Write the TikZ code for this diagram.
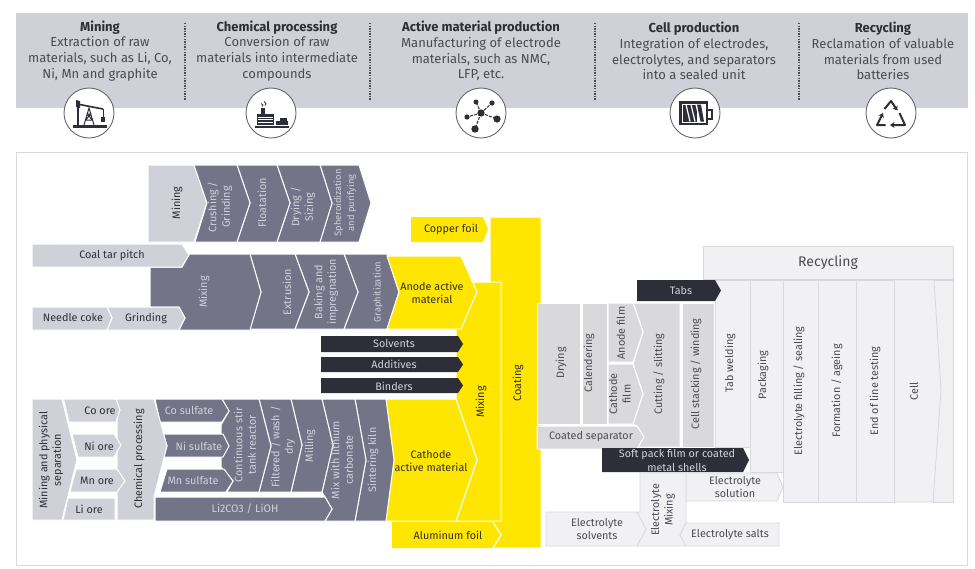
\documentclass[tikz,border=0pt]{standalone}
\usepackage{fontspec}
\setmainfont{Fira Sans}
\usetikzlibrary{arrows.meta}
\definecolor{hdr}{HTML}{D0D1D8}
\definecolor{slate}{HTML}{747489}
\definecolor{ink}{HTML}{2E2E38}
\definecolor{ylw}{HTML}{FFE600}
\definecolor{midg}{HTML}{D9D9DB}
\definecolor{pale}{HTML}{F1F1F3}
\definecolor{paleline}{HTML}{D8D9DE}
\definecolor{txt}{HTML}{4A4A55}
\tikzset{
  frame/.style={draw=paleline,line width=0.8pt,fill=white},
  lightp/.style={fill=hdr,draw=white,line width=1pt},
  slatep/.style={fill=slate,draw=white,line width=1pt},
  yellowp/.style={fill=ylw,draw=white,line width=1pt},
  inkp/.style={fill=ink},
  midp/.style={fill=midg,draw=white,line width=1pt},
  palep/.style={fill=pale,draw=paleline,line width=0.8pt},
  base/.style={inner sep=0pt,align=center,font=\fontsize{10.8}{13.5}\selectfont},
  small/.style={font=\fontsize{9.4}{13}\selectfont},
  onlight/.style={base,text=ink},
  onslate/.style={base,text=hdr},
  onyellow/.style={base,text=ink},
  oninkp/.style={base,text=hdr},
  onmid/.style={base,text=ink!85},
  onpale/.style={base,text=txt},
  up/.style={rotate=90},
  headt/.style={inner sep=0pt,align=center,text=txt,font=\fontsize{13}{15.8}\selectfont},
  badge/.style={circle,minimum size=50pt,inner sep=0pt,draw=txt!85,line width=0.9pt,fill=white},
  sepd/.style={draw=txt,line width=1.4pt,dash pattern=on 1.3pt off 1.3pt},
  icon/.style={fill=ink,draw=none},
  iconl/.style={draw=ink,line width=1pt},
  recy/.style={draw=ink,line width=2pt,line join=round,-{Stealth[length=4.5pt,width=6pt]}},
}
\newcommand{\headb}[1]{{\fontseries{sb}\selectfont\color{ink}#1}}
\begin{document}
\begin{tikzpicture}[x=1pt,y=-1pt]
\useasboundingbox (0,0) rectangle (975,568);
% header
\path[fill=hdr] (16,13) rectangle (968,108);
\path[frame] (16,152) rectangle (967,565);
\draw[sepd] (185,23) -- (185,100);
\draw[sepd] (370,23) -- (370,100);
\draw[sepd] (595,23) -- (595,100);
\draw[sepd] (799,23) -- (799,100);
\node[headt] (h1) at (100,51) {\headb{Mining}\\Extraction of raw\\materials, such as Li, Co,\\Ni, Mn and graphite};
\node[headt] (h2) at (277,51) {\headb{Chemical processing}\\Conversion of raw\\materials into intermediate\\compounds};
\node[headt] (h3) at (481,51) {\headb{Active material production}\\Manufacturing of electrode\\materials, such as NMC,\\LFP, etc.};
\node[headt] (h4) at (694,51) {\headb{Cell production}\\Integration of electrodes,\\electrolytes, and separators\\into a sealed unit};
\node[headt] (h5) at (883,51) {\headb{Recycling}\\Reclamation of valuable\\materials from used\\batteries};
\node[badge] (c1) at (89,113) {};
\node[badge] (c2) at (271,113) {};
\node[badge] (c3) at (481,113) {};
\node[badge] (c4) at (695,113) {};
\node[badge] (c5) at (891,113) {};
% pumpjack
\path[icon] (73,125) rectangle (107,127.5);
\draw[iconl,line width=1.6pt] (77,104) -- (103,109);
\path[icon] (76,100) -- (80,101) -- (80,108) -- (76,107) -- cycle;
\draw[iconl,line width=1.3pt] (78,105) -- (78,125);
\draw[iconl] (84,125) -- (89,108) -- (94,125) (85.5,120) -- (92.5,120) (87,114) -- (91,114) (85.5,120) -- (91,114) (92.5,120) -- (87,114);
\draw[iconl,line width=0.6pt] (103,109) -- (103,117);
\path[icon] (100.5,117) rectangle (104.5,122);
% factory
\path[icon] (255,125.5) rectangle (289,127.5);
\path[icon] (257,114) rectangle (274,125);
\draw[white,line width=0.7pt] (258,117) -- (273,117) (258,119.5) -- (273,119.5) (258,122) -- (273,122);
\path[icon] (261,108) rectangle (265,114);
\draw[iconl,line width=0.8pt] (261,103.5) -- (263,105) -- (262,106.5) (264,101.5) -- (266,103.5) -- (265,105.5);
\path[icon] (276,121) rectangle (288,125);
\path[icon] (280,117.5) rectangle (287,121);
% molecule
\draw[iconl,dash pattern=on 3pt off 1.2pt] (481,113) -- (476,102) (481,113) -- (492,103) (481,113) -- (497,119) (481,113) -- (475,129) (481,113) -- (467,117);
\path[icon] (481,113) circle (3.7) (476,102) circle (2.5) (492,103) circle (2.6) (497,119) circle (3.6) (475,129) circle (3.7) (467,117) circle (2.6);
% battery
\path[icon] (679,101) rectangle (708,125);
\path[fill=white] (681.5,103.5) rectangle (705.5,122.5);
\path[icon] (682.5,104.5) rectangle (697,121.5);
\draw[white,line width=1.2pt] (686,104.5) -- (690,121.5) (691,104.5) -- (695,121.5) (696,104.5) -- (700,121.5);
\path[icon] (697,104.5) -- (701,104.5) -- (704,121.5) -- (700.5,121.5) -- cycle;
\path[icon] (708,108.5) rectangle (712.5,120);
\path[fill=white] (708,110.5) rectangle (710.5,118);
% recycle
\draw[recy] (884.5,109) -- (891,101) -- (897.5,110.5);
\draw[recy] (899.5,113) -- (905,125) -- (890,125);
\draw[recy] (885.5,125) -- (877,125) -- (883,113);
% graphite line
\path[lightp] (148,165) -- (194,165) -- (207,203) -- (194,242) -- (148,242) -- cycle;
\path[slatep] (320,165) -- (359,165) -- (371,203) -- (359,242) -- (320,242) -- (332,203) -- cycle;
\path[slatep] (277,165) -- (320,165) -- (332,203) -- (320,242) -- (277,242) -- (290,203) -- cycle;
\path[slatep] (237,165) -- (277,165) -- (290,203) -- (277,242) -- (237,242) -- (250,203) -- cycle;
\path[slatep] (194,165) -- (237,165) -- (250,203) -- (237,242) -- (195,242) -- (207,203) -- cycle;
\node[onlight,up] (t1) at (177,203) {Mining};
\node[onslate,up] (t2) at (220,207) {Crushing /\\Grinding};
\node[onslate,up] (t3) at (262,203) {Floatation};
\node[onslate,up] (t4) at (303,207) {Drying /\\Sizing};
\node[onslate,up,small] (t5) at (345,203) {Spheroidization\\and purifying};
% anode line
\path[slatep] (344,254) -- (387,254) -- (399,292) -- (387,329) -- (344,329) -- (358,292) -- cycle;
\path[slatep] (295,254) -- (344,254) -- (358,292) -- (344,329) -- (295,329) -- (309,292) -- cycle;
\path[slatep] (250,254) -- (295,254) -- (309,292) -- (295,329) -- (250,329) -- (261,292) -- cycle;
\path[slatep] (187,254) -- (250,254) -- (261,292) -- (250,330) -- (179,330) -- (185,318) -- (179,307) -- (150,307) -- (150,267) -- (182,267) -- cycle;
\path[lightp] (32,244) -- (182,244) -- (189,255) -- (182,267) -- (32,267) -- cycle;
\path[lightp] (107,307) -- (179,307) -- (185,318) -- (179,330) -- (107,330) -- (112,318) -- cycle;
\path[lightp] (32,307) -- (107,307) -- (112,318) -- (107,330) -- (32,330) -- cycle;
\node[onlight] (t6) at (112,255) {Coal tar pitch};
\node[onlight] (t7) at (73,318) {Needle coke};
\node[onlight] (t8) at (146,318) {Grinding};
\node[onslate,up] (t9) at (204,292) {Mixing};
\node[onslate,up] (t10) at (287,292) {Extrusion};
\node[onslate,up] (t11) at (326,292) {Baking and\\impregnation};
\node[onslate,up,small] (t12) at (378,292) {Graphitization};
% yellow blocks
\path[yellowp] (490,217) -- (541,217) -- (541,548) -- (493,548) -- (501,535) -- (493,522) -- (490,522) -- cycle;
\path[yellowp] (474,282) -- (501,282) -- (501,521) -- (456,521) -- (477,460) -- (456,399) -- (456,330) -- cycle;
\path[yellowp] (387,256) -- (461,256) -- (477,292) -- (461,329) -- (387,329) -- (399,292) -- cycle;
\path[yellowp] (386,399) -- (456,399) -- (477,460) -- (456,521) -- (386,521) -- (394,460) -- cycle;
\path[fill=ylw] (411,217) -- (483,217) -- (488,229) -- (483,242) -- (411,242) -- cycle;
\path[fill=ylw] (392,522) -- (493,522) -- (501,535) -- (493,548) -- (392,548) -- cycle;
\draw[white,line width=1pt] (493,522) -- (501,535) -- (493,548);
\node[onyellow] (t13) at (451,229) {Copper foil};
\node[onyellow] (t14) at (432,293) {Anode active\\material};
\node[onyellow,up] (t15) at (481,402) {Mixing};
\node[onyellow,up] (t16) at (518,383) {Coating};
\node[onyellow] (t17) at (431,461) {Cathode\\active material};
\node[onyellow] (t18) at (448,535) {Aluminum foil};
\path[inkp] (321,336) -- (458,336) -- (463,344) -- (458,352) -- (321,352) -- cycle;
\path[inkp] (321,357) -- (458,357) -- (463,364.5) -- (458,372) -- (321,372) -- cycle;
\path[inkp] (321,378) -- (458,378) -- (463,385.5) -- (458,393) -- (321,393) -- cycle;
\node[oninkp] (t19) at (394,344) {Solvents};
\node[oninkp] (t20) at (394,364.5) {Additives};
\node[oninkp] (t21) at (394,386) {Binders};
% cathode line
\path[slatep] (355,399) -- (386,399) -- (394,460) -- (386,521) -- (355,521) -- (366,460) -- cycle;
\path[slatep] (322,399) -- (355,399) -- (366,460) -- (355,521) -- (325,521) -- (332,509) -- (325,497) -- (322,492) -- (333,445) -- cycle;
\path[slatep] (291,399) -- (322,399) -- (333,445) -- (322,492) -- (291,492) -- (302,445) -- cycle;
\path[slatep] (259,399) -- (291,399) -- (302,445) -- (291,492) -- (259,492) -- (271,446) -- cycle;
\path[slatep] (222,399) -- (259,399) -- (271,446) -- (259,492) -- (227,492) -- (233,481) -- (221,467) -- (221,425) -- (229,411) -- cycle;
\path[slatep] (155,497) -- (325,497) -- (332,509) -- (325,521) -- (155,521) -- cycle;
\path[slatep] (155,399) -- (222,399) -- (229,411) -- (222,422) -- (160,422) -- cycle;
\path[slatep] (163,434) -- (223,434) -- (229,446) -- (223,457) -- (163,457) -- (167,446) -- cycle;
\path[slatep] (167,469) -- (224,469) -- (233,481) -- (226,492) -- (160,492) -- cycle;
\path[lightp] (117,399) -- (154,399) -- (167,446) -- (154,497) -- (154,520) -- (117,520) -- cycle;
\path[lightp] (32,399) -- (62,399) -- (77,460) -- (62,520) -- (32,520) -- cycle;
\path[lightp] (63.5,399) -- (116,399) -- (120,410) -- (116,422) -- (69,422) -- cycle;
\path[lightp] (72,434) -- (114,434) -- (121,445) -- (114,457) -- (78,457) -- cycle;
\path[lightp] (76,469) -- (117,469) -- (125,481) -- (117,492) -- (70,492) -- cycle;
\path[lightp] (68,498) -- (115,498) -- (115,520) -- (63,520) -- cycle;
\node[onlight,up] (t22) at (51,460) {Mining and physical\\separation};
\node[onlight] (t23) at (100,411) {Co ore};
\node[onlight] (t24) at (99,446) {Ni ore};
\node[onlight] (t25) at (97,481) {Mn ore};
\node[onlight] (t26) at (89,509) {Li ore};
\node[onlight,up] (t27) at (139,459) {Chemical processing};
\node[onslate] (t28) at (189,411) {Co sulfate};
\node[onslate] (t29) at (199,446) {Ni sulfate};
\node[onslate] (t30) at (193,481) {Mn sulfate};
\node[onslate,up] (t31) at (245,445) {Continuous stir\\tank reactor};
\node[onslate,up] (t32) at (283,447) {Filtered / wash /\\dry};
\node[onslate,up] (t33) at (310,446) {Milling};
\node[onslate] (t34) at (245,509) {Li2CO3 / LiOH};
\node[onslate,up] (t35) at (342,460) {Mix with lithium\\carbonate};
\node[onslate,up] (t36) at (373,460) {Sintering kiln};
% recycling block
\path[palep] (703,246) rectangle (953,279);
\node[onpale,font=\fontsize{14}{16}\selectfont] (t37) at (828,263) {Recycling};
\path[palep] (933,280) rectangle (953,502);
\path[palep] (894,280) -- (934,280) -- (941,390) -- (933,502) -- (894,502) -- cycle;
\path[palep] (856,280) rectangle (894,502);
\path[palep] (818,280) rectangle (856,502);
\path[palep] (783,280) rectangle (818,502);
\path[palep] (750,280) rectangle (783,472);
\path[palep] (715,280) rectangle (750,447);
\node[onpale,up] (t38) at (730,363) {Tab welding};
\node[onpale,up] (t39) at (763,375) {Packaging};
\node[onpale,up] (t40) at (799,391) {Electrolyte filling / sealing};
\node[onpale,up] (t41) at (837,391) {Formation / ageing};
\node[onpale,up] (t42) at (875,391) {End of line testing};
\node[onpale,up] (t43) at (914,391) {Cell};
% cell stages
\path[midp] (682,303) rectangle (714,447);
\path[midp] (633,303) -- (680,303) -- (680,447) -- (637,447) -- (644,437) -- (637,426) -- (633,424) -- (643,394) -- (633,364) -- (643,332) -- cycle;
\path[midp] (537,303) rectangle (580,424);
\path[midp] (582,303) rectangle (607,424);
\path[midp] (608,303) -- (633,303) -- (643,332) -- (633,362) -- (608,362) -- cycle;
\path[midp] (608,364) -- (633,364) -- (643,394) -- (633,424) -- (608,424) -- cycle;
\path[midp] (537,426) -- (637,426) -- (644,437) -- (637,449) -- (537,449) -- cycle;
\path[inkp] (637,280) -- (715,280) -- (721,290.5) -- (715,301) -- (637,301) -- cycle;
\path[inkp] (602,448) -- (743,448) -- (749,460) -- (743,472) -- (602,472) -- cycle;
\node[onmid,up] (t44) at (561,363) {Drying};
\node[onmid,up] (t45) at (589,363) {Calendering};
\node[onmid,up] (t46) at (621,333) {Anode film};
\node[onmid,up] (t47) at (620,394) {Cathode\\film};
\node[onmid] (t48) at (591,437) {Coated separator};
\node[onmid,up] (t49) at (659,374) {Cutting / slitting};
\node[onmid,up] (t50) at (696,374) {Cell stacking / winding};
\node[oninkp] (t51) at (681,290.5) {Tabs};
\node[oninkp] (t52) at (677,460.5) {Soft pack film or coated\\metal shells};
% electrolyte
\path[palep] (686,473) -- (777,473) -- (783,487) -- (777,501) -- (686,501) -- cycle;
\path[palep] (640,473) -- (686,473) -- (686,523) -- (680,535) -- (686,546) -- (637,546) -- (646,529) -- (637,512) -- (640,512) -- cycle;
\path[palep] (546,512) -- (637,512) -- (646,529) -- (637,546) -- (546,546) -- cycle;
\path[palep] (686,523) -- (779,523) -- (779,546) -- (686,546) -- (680,535) -- cycle;
\node[onpale] (t53) at (735,487) {Electrolyte\\solution};
\node[onpale,up] (t54) at (663,510) {Electrolyte\\Mixing};
\node[onpale] (t55) at (597,529) {Electrolyte\\solvents};
\node[onpale] (t56) at (730,535) {Electrolyte salts};
\end{tikzpicture}
\end{document}
